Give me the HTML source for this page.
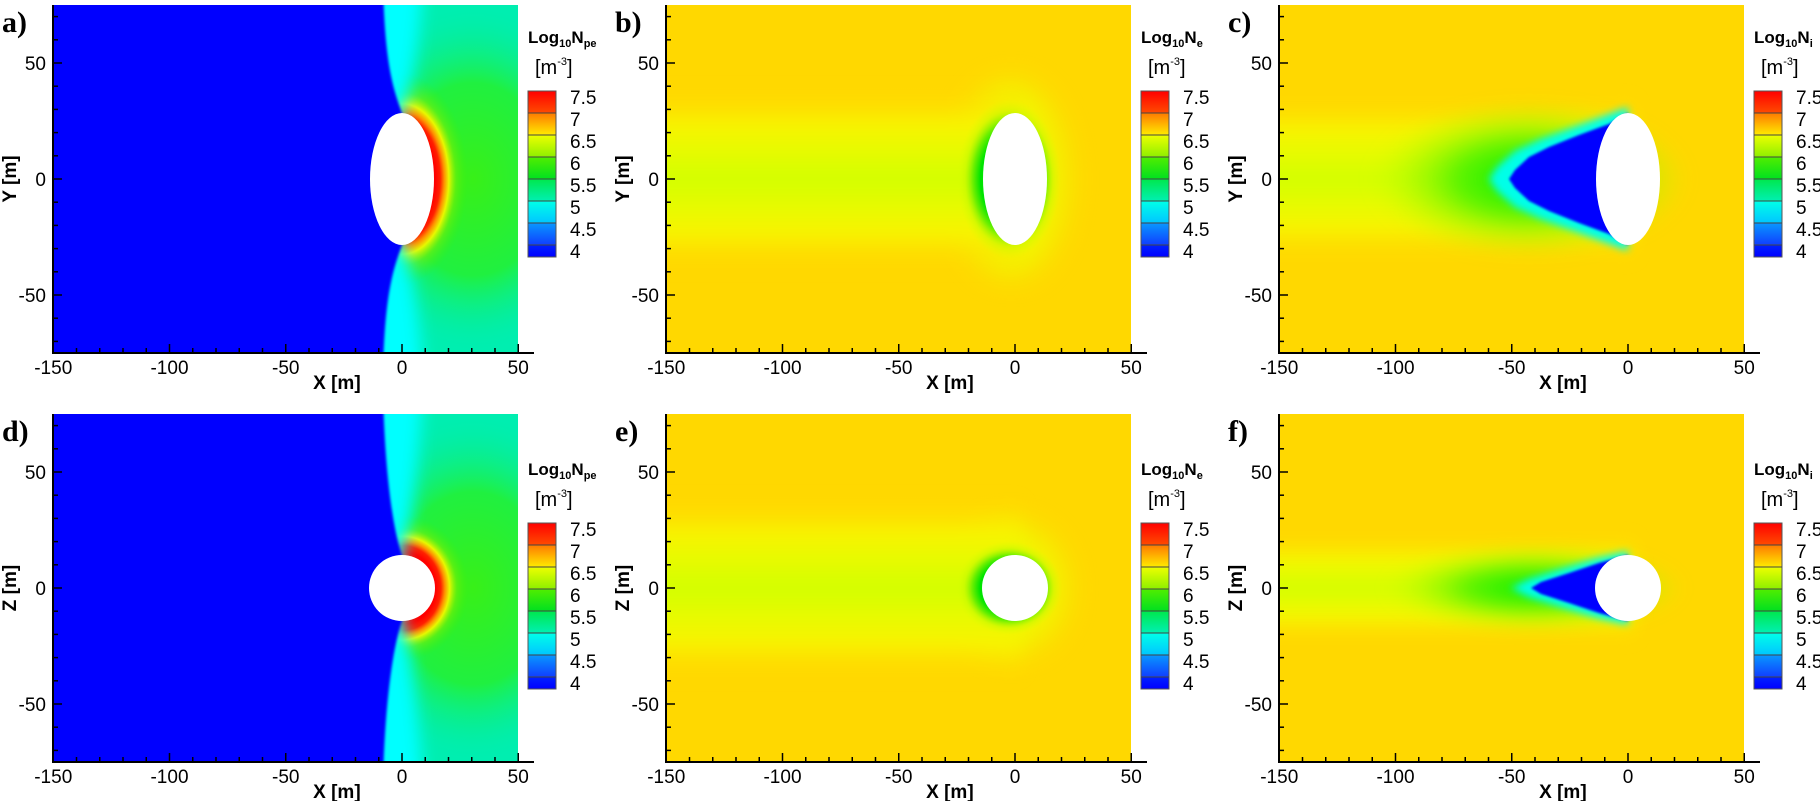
<!DOCTYPE html>
<html><head><meta charset="utf-8">
<style>
html,body{margin:0;padding:0;background:#fff;}
svg{display:block;}
text{font-family:"Liberation Sans",Arial,sans-serif;fill:#000;}
</style></head>
<body>
<svg id="s" width="1820" height="801" viewBox="0 0 1820 801" xmlns="http://www.w3.org/2000/svg">
<defs>
<filter id="b1" x="-20%" y="-20%" width="140%" height="140%"><feGaussianBlur stdDeviation="1.2"/></filter>
<filter id="b4" x="-20%" y="-20%" width="140%" height="140%"><feGaussianBlur stdDeviation="4"/></filter>
<filter id="b8" x="-30%" y="-30%" width="160%" height="160%"><feGaussianBlur stdDeviation="8"/></filter>
<filter id="b14" x="-40%" y="-40%" width="180%" height="180%"><feGaussianBlur stdDeviation="14"/></filter>
<clipPath id="clip"><rect x="0" y="0" width="465" height="348"/></clipPath>
<radialGradient id="gGreen"><stop offset="0" stop-color="#38f018"/><stop offset="0.55" stop-color="#20f040"/><stop offset="1" stop-color="#00eeb0" stop-opacity="0"/></radialGradient>
<radialGradient id="gRed"><stop offset="0.5" stop-color="#ff0000"/><stop offset="0.58" stop-color="#ff2000"/><stop offset="0.64" stop-color="#ff9000"/><stop offset="0.71" stop-color="#e8f800"/><stop offset="0.82" stop-color="#80f000" stop-opacity="0.5"/><stop offset="1" stop-color="#40f000" stop-opacity="0"/></radialGradient>
<linearGradient id="gBand" x1="0" y1="0" x2="0" y2="1"><stop offset="0" stop-color="#ffd800" stop-opacity="0"/><stop offset="0.2" stop-color="#f8f400"/><stop offset="0.38" stop-color="#e2fc00"/><stop offset="0.5" stop-color="#d2ff00"/><stop offset="0.62" stop-color="#e2fc00"/><stop offset="0.8" stop-color="#f8f400"/><stop offset="1" stop-color="#ffd800" stop-opacity="0"/></linearGradient>
<radialGradient id="gHalo"><stop offset="0.55" stop-color="#00e400"/><stop offset="0.7" stop-color="#70f000"/><stop offset="0.85" stop-color="#c0fa00" stop-opacity="0.5"/><stop offset="1" stop-color="#d8ff00" stop-opacity="0"/></radialGradient>
<radialGradient id="gWake"><stop offset="0" stop-color="#00f000"/><stop offset="0.45" stop-color="#50f200" stop-opacity="0.9"/><stop offset="1" stop-color="#c8ff00" stop-opacity="0"/></radialGradient>
<linearGradient id="gCB" x1="0" y1="0" x2="0" y2="1">
<stop offset="0" stop-color="#ff0000"/><stop offset="0.13" stop-color="#ff4a00"/>
<stop offset="0.133" stop-color="#ff7a00"/><stop offset="0.26" stop-color="#ffe600"/>
<stop offset="0.265" stop-color="#eeff00"/><stop offset="0.395" stop-color="#90f000"/>
<stop offset="0.4" stop-color="#50ee00"/><stop offset="0.53" stop-color="#00e020"/>
<stop offset="0.535" stop-color="#00e850"/><stop offset="0.66" stop-color="#00f0b0"/>
<stop offset="0.665" stop-color="#00ffe8"/><stop offset="0.79" stop-color="#00c8ff"/>
<stop offset="0.795" stop-color="#0898ff"/><stop offset="0.925" stop-color="#1040ff"/>
<stop offset="0.93" stop-color="#0020ff"/><stop offset="1" stop-color="#0000ff"/>
</linearGradient>
</defs>
<g id="root"></g>
</svg>
<script>
(function(){
function X(m){return 349+m*2.325;}
function Y(m){return 174-m*2.32;}
var panels=[
 {x:53,y:5,t:'pe',sh:'e',l:'a)',yl:'Y',cb:91,ct:43},
 {x:666,y:5,t:'ne',sh:'e',l:'b)',yl:'Y',cb:91,ct:43},
 {x:1279,y:5,t:'ni',sh:'e',l:'c)',yl:'Y',cb:91,ct:43},
 {x:53,y:414,t:'pe',sh:'c',l:'d)',yl:'Z',cb:523,ct:475},
 {x:666,y:414,t:'ne',sh:'c',l:'e)',yl:'Z',cb:523,ct:475},
 {x:1279,y:414,t:'ni',sh:'c',l:'f)',yl:'Z',cb:523,ct:475}
];
var out='';
panels.forEach(function(p){
 var rx=p.sh=='e'?32:33, ry=p.sh=='e'?66:33;
 var obj='<ellipse cx="349" cy="174" rx="'+rx+'" ry="'+ry+'" fill="#fff"/>';
 var f='';
 if(p.t=='pe'){
  f+='<rect x="0" y="0" width="465" height="348" fill="#00eeb0"/>';
  f+='<ellipse cx="420" cy="174" rx="140" ry="175" fill="url(#gGreen)"/>';
  f+='<ellipse cx="349" cy="174" rx="'+(rx+34)+'" ry="'+(ry+40)+'" fill="url(#gRed)"/>';
  var t=174-ry,b=174+ry;
  f+='<path filter="url(#b8)" fill="#00ffff" d="M-20,-20 L370,-20 C364,60 356,'+(t-20)+' 349,'+t+' L349,'+b+' C356,'+(b+20)+' 364,288 370,368 L-20,368 Z"/>';
  f+='<path filter="url(#b1)" fill="#0000ff" d="M-20,-20 L330,-20 C332,60 340,'+(t-25)+' 349,'+t+' L349,'+b+' C340,'+(b+25)+' 332,288 330,368 L-20,368 Z"/>';
 } else if(p.t=='ne'){
  f+='<rect x="0" y="0" width="465" height="348" fill="#ffd800"/>';
  f+='<ellipse cx="345" cy="174" rx="55" ry="'+(ry+30)+'" fill="#f2f600" filter="url(#b14)"/>';
  f+='<rect x="-20" y="'+(174-90)+'" width="375" height="180" fill="url(#gBand)" filter="url(#b8)"/>';
  f+='<ellipse cx="343" cy="174" rx="'+(rx+20)+'" ry="'+(ry+14)+'" fill="url(#gHalo)"/>';
 } else {
  var hw=p.sh=='e'?82:52;
  f+='<rect x="0" y="0" width="465" height="348" fill="#ffd800"/>';
  f+='<rect x="-20" y="'+(174-hw)+'" width="375" height="'+(2*hw)+'" fill="url(#gBand)" filter="url(#b8)"/>';
  var bp,cp;
  if(p.sh=='e'){
   f+='<ellipse cx="250" cy="174" rx="160" ry="78" fill="url(#gWake)" filter="url(#b8)"/>';
   bp='349,108 330,119 300,130 270,142 250,152 236,165 230,174 236,183 250,196 270,206 300,218 330,229 349,240';
   cp='349,102 325,111 295,122 262,134 236,146 218,162 210,174 218,186 236,202 262,214 295,226 325,237 349,246';
  } else {
   f+='<ellipse cx="255" cy="174" rx="150" ry="42" fill="url(#gWake)" filter="url(#b8)"/>';
   bp='349,141 320,149 290,159 262,168 252,174 262,180 290,189 320,199 349,207';
   cp='349,137 318,144 285,154 250,165 232,174 250,183 285,194 318,204 349,211';
  }
  f+='<polygon points="'+cp+'" fill="#00ffe8" filter="url(#b4)"/>';
  f+='<polygon points="'+bp+'" fill="#0000ff" filter="url(#b1)"/>';
 }
 out+='<g transform="translate('+p.x+','+p.y+')"><g clip-path="url(#clip)">'+f+obj+'</g>';
 out+='<line x1="0" y1="0" x2="0" y2="349" stroke="#000" stroke-width="2"/>';
 out+='<line x1="-1" y1="348" x2="481" y2="348" stroke="#000" stroke-width="2"/>';
 for(var m=-150;m<=50;m+=10){var xx=X(m),maj=(m%50==0);out+='<line x1="'+xx+'" y1="348" x2="'+xx+'" y2="'+(348-(maj?9:5))+'" stroke="#000" stroke-width="1.5"/>';
  if(maj)out+='<text x="'+xx+'" y="369" font-size="19" text-anchor="middle">'+m+'</text>';}
 for(var m=-70;m<=70;m+=10){var yy=Y(m),maj=(m%50==0);out+='<line x1="0" y1="'+yy+'" x2="'+(maj?9:5)+'" y2="'+yy+'" stroke="#000" stroke-width="1.5"/>';
  if(maj)out+='<text x="-7" y="'+(yy+7)+'" font-size="19" text-anchor="end">'+m+'</text>';}
 out+='<text x="'+X(-28)+'" y="384" font-size="19" font-weight="bold" text-anchor="middle">X [m]</text>';
 out+='<text transform="translate(-37,174) rotate(-90)" font-size="19" font-weight="bold" text-anchor="middle">'+p.yl+' [m]</text>';
 out+='<text x="-51" y="27" font-size="30" font-weight="bold" style="font-family:\'Liberation Serif\',serif">'+p.l+'</text>';
 out+='</g>';
 var cx=p.x+475, cy=p.cb;
 out+='<rect x="'+cx+'" y="'+cy+'" width="28" height="166" fill="url(#gCB)" stroke="#555" stroke-width="1"/>';
 for(var k=1;k<=7;k++){out+='<line x1="'+cx+'" y1="'+(cy+22*k)+'" x2="'+(cx+28)+'" y2="'+(cy+22*k)+'" stroke="#444" stroke-width="1"/>';}
 var labs=['7.5','7','6.5','6','5.5','5','4.5','4'];
 labs.forEach(function(s,k){out+='<text x="'+(cx+42)+'" y="'+(cy+6+22*k+7)+'" font-size="19">'+s+'</text>';});
 var sub=p.t=='pe'?'pe':(p.t=='ne'?'e':'i');
 out+='<text x="'+cx+'" y="'+p.ct+'" font-size="17" font-weight="bold">Log<tspan font-size="11" dy="4">10</tspan><tspan dy="-4">N</tspan><tspan font-size="11" dy="4">'+sub+'</tspan></text>';
 out+='<text x="'+(cx+7)+'" y="'+(p.ct+31)+'" font-size="20">[m<tspan font-size="11" dy="-9">-3</tspan><tspan dy="9">]</tspan></text>';
});
document.getElementById('root').innerHTML=out;
})();
</script>
</body></html>
